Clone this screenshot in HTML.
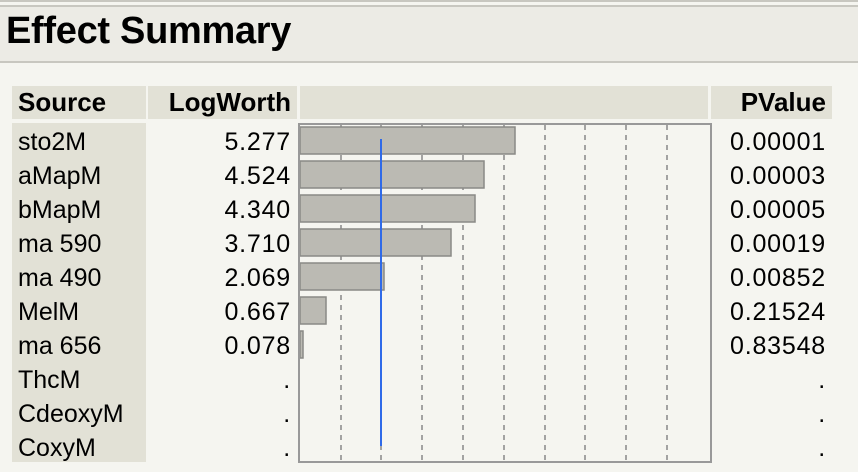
<!DOCTYPE html>
<html><head><style>
body{margin:0;width:858px;height:472px;background:#f5f5f0;font-family:"Liberation Sans",sans-serif;position:relative;overflow:hidden}
.a{position:absolute}
.t{font-size:25px;color:#000;line-height:34px;letter-spacing:0.8px}
.h{font-size:26px;font-weight:bold;letter-spacing:0}
</style></head><body>
<div class="a" style="left:0;top:0;width:858px;height:2px;background:#c8c7c0"></div>
<div class="a" style="left:0;top:5px;width:858px;height:54px;background:#ecebe5;border-top:2px solid #c8c7c0;border-bottom:2px solid #c8c7c0"></div>
<div class="a" style="left:6px;top:10px;font-size:38px;font-weight:bold;letter-spacing:-0.3px">Effect Summary</div>
<div class="a" style="left:12px;top:86px;width:134px;height:33px;background:#e2e1d6"></div>
<div class="a" style="left:148px;top:86px;width:149px;height:33px;background:#e2e1d6"></div>
<div class="a" style="left:300px;top:86px;width:408px;height:33px;background:#e2e1d6"></div>
<div class="a" style="left:711px;top:86px;width:121px;height:33px;background:#e2e1d6"></div>
<div class="a t h" style="left:18px;top:85px">Source</div>
<div class="a t h" style="left:140px;width:151px;text-align:right;top:85px">LogWorth</div>
<div class="a t h" style="left:700px;width:126px;text-align:right;top:85px">PValue</div>
<div class="a" style="left:12px;top:123px;width:134px;height:339px;background:#e2e1d6"></div>
<svg class="a" style="left:0;top:0" width="858" height="472">
<g stroke="#888" stroke-width="1.5" stroke-dasharray="5,5">
<line x1="341" y1="125" x2="341" y2="461"/><line x1="381" y1="125" x2="381" y2="461"/><line x1="422" y1="125" x2="422" y2="461"/><line x1="463" y1="125" x2="463" y2="461"/><line x1="504" y1="125" x2="504" y2="461"/><line x1="545" y1="125" x2="545" y2="461"/><line x1="585" y1="125" x2="585" y2="461"/><line x1="626" y1="125" x2="626" y2="461"/><line x1="667" y1="125" x2="667" y2="461"/>
</g>
<g fill="#bbbab3" stroke="#8a8a86" stroke-width="1.5">
<rect x="300" y="127" width="215" height="27"/>
<rect x="300" y="161" width="184" height="27"/>
<rect x="300" y="195" width="175" height="27"/>
<rect x="300" y="229" width="151" height="27"/>
<rect x="300" y="263" width="84" height="27"/>
<rect x="300" y="297" width="26" height="27"/>
<rect x="300" y="331" width="3" height="27"/>
</g>
<rect x="299" y="124" width="412" height="338" fill="none" stroke="#999" stroke-width="2"/>
<line x1="381" y1="139" x2="381" y2="446" stroke="#2f6ae8" stroke-width="2"/>
</svg>
<div class="a t" style="left:18px;top:125px;letter-spacing:0">sto2M<br>aMapM<br>bMapM<br>ma 590<br>ma 490<br>MelM<br>ma 656<br>ThcM<br>CdeoxyM<br>CoxyM</div>
<div class="a t" style="left:140px;width:151px;text-align:right;top:125px">5.277<br>4.524<br>4.340<br>3.710<br>2.069<br>0.667<br>0.078<br>.<br>.<br>.</div>
<div class="a t" style="left:700px;width:126px;text-align:right;top:125px">0.00001<br>0.00003<br>0.00005<br>0.00019<br>0.00852<br>0.21524<br>0.83548<br>.<br>.<br>.</div>
</body></html>
